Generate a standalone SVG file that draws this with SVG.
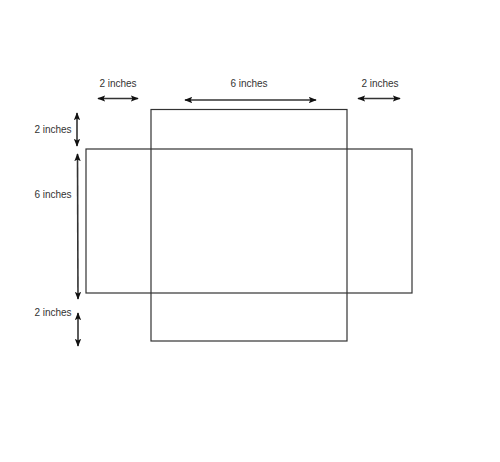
<svg xmlns="http://www.w3.org/2000/svg" width="500" height="462" viewBox="0 0 500 462">
<defs>
<style>
.shape{fill:none;stroke:#333;stroke-width:1.2}
.dim{stroke:#333;stroke-width:1.6;fill:none}
.lbl{font-family:"Liberation Sans",Arial,sans-serif;font-size:10px;fill:#333;text-anchor:middle}
</style>
<marker id="ah" viewBox="0 0 10 8" refX="9" refY="4" markerWidth="5" markerHeight="4" orient="auto-start-reverse" markerUnits="strokeWidth">
<path d="M0,0 L10,4 L0,8 L2,4 Z" fill="#111"/>
</marker>
</defs>
<rect width="500" height="462" fill="#fff"/>
<g id="vertical-panel"><rect class="shape" x="151" y="109.5" width="196" height="231.5"/></g>
<g id="horizontal-panel"><rect class="shape" x="86" y="149" width="326" height="144"/></g>
<g id="connectors">
<line class="dim" x1="98" y1="98.5" x2="138" y2="98.5" marker-start="url(#ah)" marker-end="url(#ah)"/>
<line class="dim" x1="185" y1="100" x2="316" y2="100" marker-start="url(#ah)" marker-end="url(#ah)"/>
<line class="dim" x1="358" y1="98.5" x2="400" y2="98.5" marker-start="url(#ah)" marker-end="url(#ah)"/>
<line class="dim" x1="77" y1="113" x2="77" y2="146" marker-start="url(#ah)" marker-end="url(#ah)"/>
<line class="dim" x1="77.5" y1="154" x2="78" y2="299" marker-start="url(#ah)" marker-end="url(#ah)"/>
<line class="dim" x1="78" y1="313" x2="78" y2="346" marker-start="url(#ah)" marker-end="url(#ah)"/>
</g>
<g id="labels">
<text class="lbl" x="118" y="87">2 inches</text>
<text class="lbl" x="249" y="87">6 inches</text>
<text class="lbl" x="380" y="87">2 inches</text>
<text class="lbl" x="53" y="133">2 inches</text>
<text class="lbl" x="53" y="198">6 inches</text>
<text class="lbl" x="53" y="316">2 inches</text>
</g>
</svg>
